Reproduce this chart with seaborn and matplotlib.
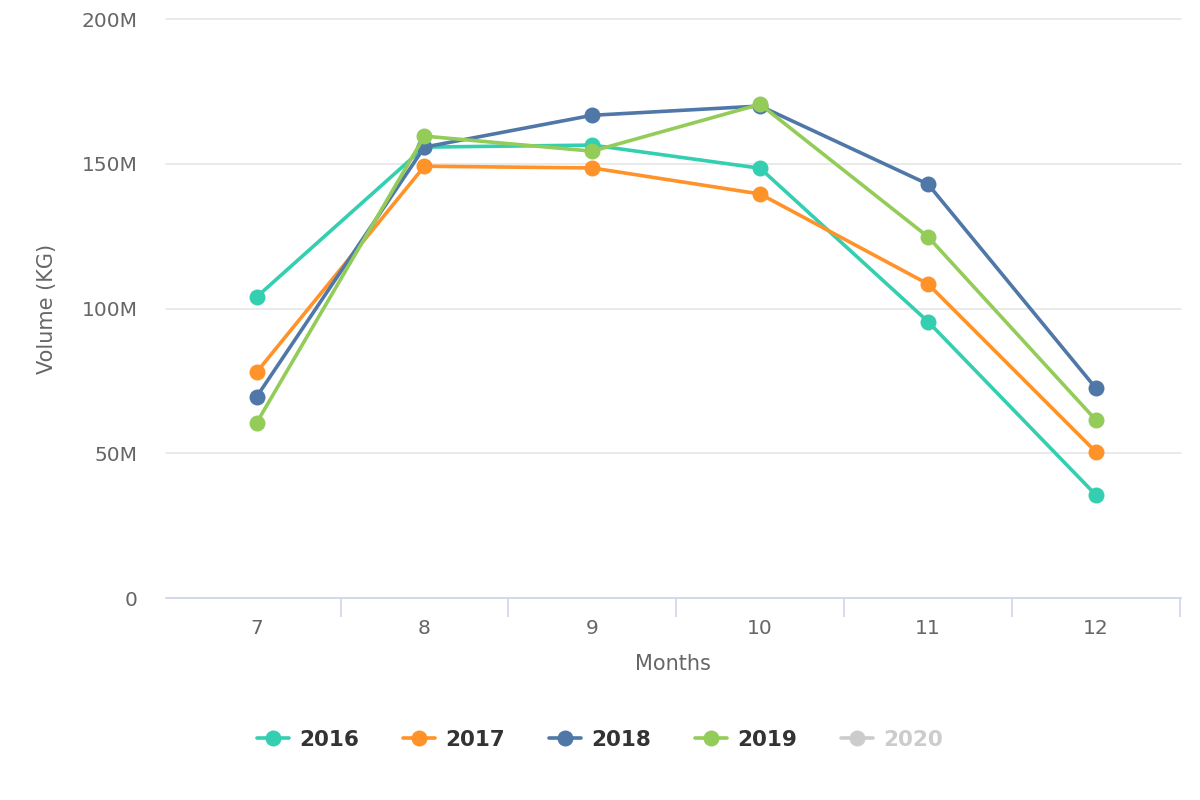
import seaborn as sns
import matplotlib.pyplot as plt
import pandas as pd
from matplotlib.lines import Line2D
from matplotlib.ticker import FuncFormatter, FixedLocator

# data (in millions of kg)
months = ["7", "8", "9", "10", "11", "12"]
v2016 = [104.0, 155.8, 156.5, 148.5, 95.5, 35.6]
v2017 = [78.0, 149.2, 148.6, 139.6, 108.5, 50.5]
v2018 = [69.5, 155.8, 166.8, 170.0, 143.0, 72.5]
v2019 = [60.5, 159.6, 154.4, 170.6, 124.8, 61.5]
years = ["2016", "2017", "2018", "2019"]
hidden_year = "2020"

colors = {"2016": "#33cfb0", "2017": "#ff9229", "2018": "#4f78a8", "2019": "#93cc58"}

rows = []
for yr, vals in zip(years, [v2016, v2017, v2018, v2019]):
    for i, (m, v) in enumerate(zip(months, vals)):
        rows.append({"idx": i, "month": m, "year": yr, "volume": v * 1e6})
df = pd.DataFrame(rows)

sns.set_style("white")
plt.rcParams["font.family"] = ["DejaVu Sans"]

fig = plt.figure(figsize=(12, 8), dpi=100)
ax = fig.add_axes([0.138, 0.2525, 0.846, 0.7235])

sns.lineplot(data=df, x="idx", y="volume", hue="year", palette=colors,
             marker="o", markersize=11.5, markeredgewidth=0, linewidth=2.6,
             legend=False, ax=ax)

ax.set_xlim(-0.542, len(months) - 0.494)
ax.set_ylim(0, 200e6)
ax.set_yticks([0, 50e6, 100e6, 150e6, 200e6])
ax.yaxis.set_major_formatter(FuncFormatter(lambda v, p: "0" if v == 0 else f"{int(v/1e6)}M"))
ax.set_xticks(range(len(months)))
ax.set_xticklabels(months)
ax.xaxis.set_minor_locator(FixedLocator([i + 0.5 for i in range(0, len(months))]))

ax.grid(axis="y", color="#e6e6e6", linewidth=1.2)
ax.set_axisbelow(True)
for gl in ax.get_ygridlines():
    gl.set_clip_on(False)
for s in ["top", "right", "left"]:
    ax.spines[s].set_visible(False)
ax.spines["bottom"].set_color("#ccd6eb")
ax.spines["bottom"].set_linewidth(1.2)

ax.tick_params(axis="y", length=0, labelsize=14.5, labelcolor="#666666", pad=20)
ax.tick_params(axis="x", which="major", bottom=True, length=0, labelsize=14.5,
               labelcolor="#666666", pad=15)
ax.tick_params(axis="x", which="minor", bottom=True, length=14, color="#ccd6eb", width=1.2)

ax.set_xlabel("Months", fontsize=15, color="#666666", labelpad=12)
ax.set_ylabel("Volume (KG)", fontsize=15, color="#666666", labelpad=18)

handles = [Line2D([], [], color=colors[y], marker="o", markersize=11.5, markeredgewidth=0, linewidth=2.6)
           for y in years]
handles.append(Line2D([], [], color="#cccccc", marker="o", markersize=11.5, markeredgewidth=0, linewidth=2.6))
labels = years + [hidden_year]
leg = fig.legend(handles, labels, loc="center", bbox_to_anchor=(0.5, 0.075), ncol=5,
                 frameon=False, fontsize=15.5, handlelength=1.5, columnspacing=2.0,
                 handletextpad=0.5)
for t, lab in zip(leg.get_texts(), labels):
    t.set_fontweight("bold")
    t.set_color("#cccccc" if lab == hidden_year else "#333333")

plt.savefig("out.png", dpi=100)
